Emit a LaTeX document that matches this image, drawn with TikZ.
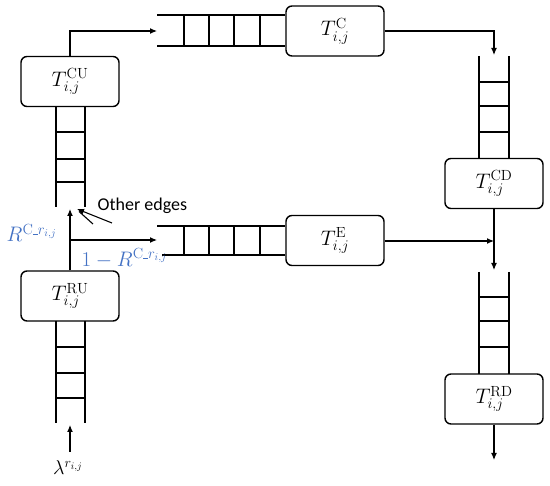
\documentclass[tikz,border=0pt]{standalone}
\usepackage{fix-cm}
\usepackage{fontspec}
\newfontfamily\carlito{Carlito}
\usetikzlibrary{arrows.meta}
\definecolor{lblue}{HTML}{4472C4}
\newcommand{\usc}{\rule{5pt}{0.7pt}}
\begin{document}
\begin{tikzpicture}[x=1pt,y=-1pt,
  line width=1.4pt,
  box/.style={draw,rounded corners=6pt,minimum width=98pt,minimum height=50pt,inner sep=0pt,font=\fontsize{21}{24}\selectfont},
  arr/.style={line width=1.1pt,-{Latex[length=7pt,width=6pt]}},
  conn/.style={line width=1.1pt},
  blab/.style={text=lblue,font=\fontsize{21}{24}\selectfont,inner sep=0pt}]
\useasboundingbox (0,0) rectangle (550,486);

% boxes
\node[box] (CU) at (70,81.5) {$T_{i,j}^{\mathrm{CU}}$};
\node[box] (C)  at (335,31) {$T_{i,j}^{\mathrm{C}}$};
\node[box] (E)  at (335,240.5) {$T_{i,j}^{\mathrm{E}}$};
\node[box] (RU) at (70,296) {$T_{i,j}^{\mathrm{RU}}$};
\node[box] (CD) at (494,183.5) {$T_{i,j}^{\mathrm{CD}}$};
\node[box] (RD) at (494,399) {$T_{i,j}^{\mathrm{RD}}$};

% top horizontal queue
\coordinate (q1) at (157,31);
\draw (157,15) -- (C.west |- 0,15);
\draw (157,46) -- (C.west |- 0,46);
\foreach \x in {184,209,234,260} \draw (\x,15) -- (\x,46);

% middle horizontal queue
\coordinate (q2) at (157,240);
\draw (157,226) -- (E.west |- 0,226);
\draw (162,255) -- (E.west |- 0,255);
\foreach \x in {184,209,234,260} \draw (\x,226) -- (\x,255);

% CU queue (vertical)
\coordinate (q3) at (70,209);
\draw (56,107) -- (56,207);
\draw (85,107) -- (85,207);
\foreach \y in {132,159,182} \draw (56,\y) -- (85,\y);

% RU queue
\coordinate (q4) at (70,425);
\draw (56,321) -- (56,423);
\draw (85,321) -- (85,423);
\foreach \y in {347,373,398} \draw (56,\y) -- (85,\y);

% CD queue
\coordinate (q5) at (494,55);
\draw (479,56) -- (479,158);
\draw (509,56) -- (509,158);
\foreach \y in {82,106,132} \draw (479,\y) -- (509,\y);

% RD queue
\coordinate (q6) at (494,270);
\draw (479,272) -- (479,374);
\draw (509,272) -- (509,374);
\foreach \y in {297,321,347} \draw (479,\y) -- (509,\y);

% connectors
\draw[arr] (CU.north) |- (q1);
\draw[arr] (C.east) -| (q5);
\draw[arr] (RU.north) -- (q3);
\coordinate (br) at (70,240);
\draw[arr] (br) -- (q2);
\coordinate (lamstart) at (70,452);
\draw[arr] (lamstart) -- (q4);
\draw[arr] (CD.south) -- (q6);
\coordinate (ej) at (494,241);
\draw[arr] (E.east |- ej) -- (ej);
\coordinate (out) at (494,460);
\draw[arr] (RD.south) -- (out);

% other edges
\coordinate (oe1) at (112,223);
\coordinate (oe2) at (93,224);
\coordinate (oetip) at (77,209);
\draw[arr] (oe1) -- (oetip);
\draw[conn] (oe2) -- (79,211.5);
\node[anchor=west,inner sep=0pt,font=\carlito\fontsize{18}{20}\selectfont] (oet) at (97,206) {Other edges};

% labels
\node[blab,anchor=west] (rl) at (6,233) {$R^{\mathrm{C}\usc r_{i,j}}$};
\node[blab,anchor=west] (rl2) at (81,258) {$1-R^{\mathrm{C}\usc r_{i,j}}$};
\node[inner sep=0pt,font=\fontsize{20}{24}\selectfont] (lam) at (68,468) {$\lambda^{r_{i,j}}$};
\end{tikzpicture}
\end{document}
